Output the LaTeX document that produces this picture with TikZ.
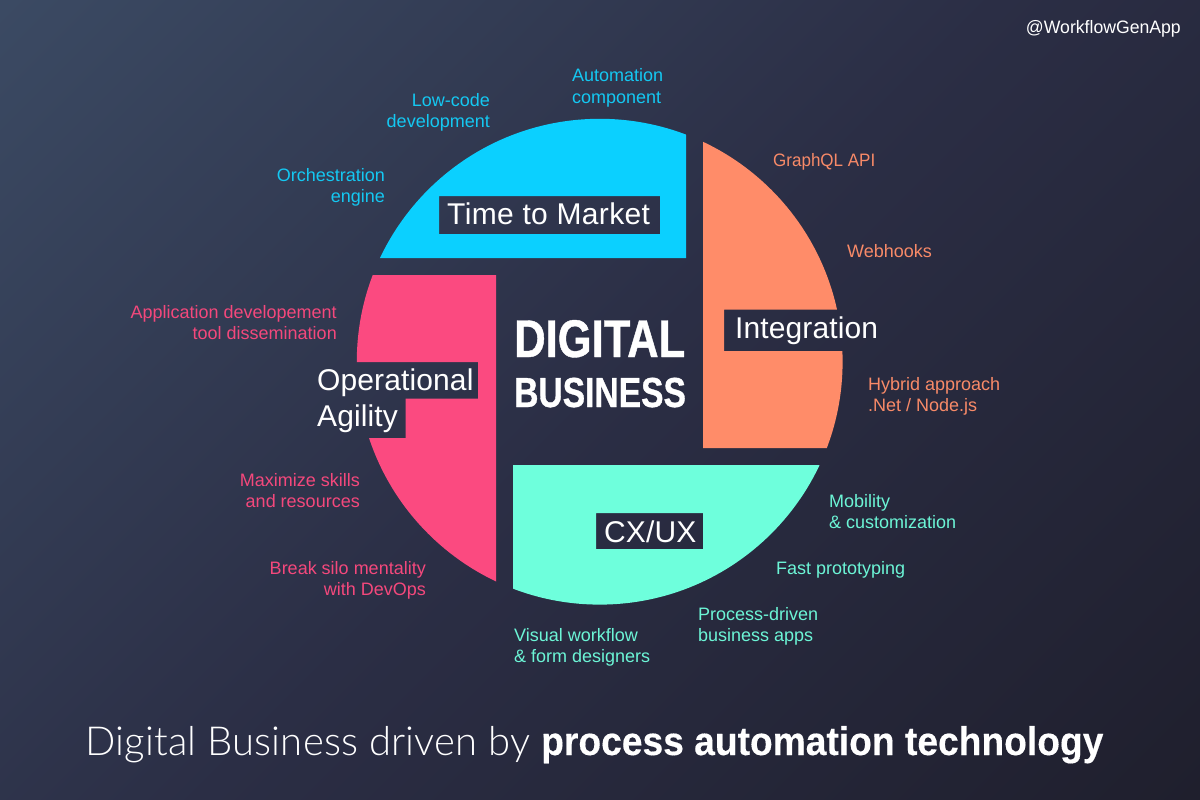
\documentclass[tikz,border=0pt]{standalone}
\usepackage{fontspec}
\setmainfont{Liberation Sans}
\newfontfamily\lightf[LetterSpace=0.35]{Lato Light}
\newfontfamily\boldf[FakeStretch=0.93,FakeBold=0.3]{Liberation Sans Bold}
\newfontfamily\bigf[LetterSpace=0.4]{Liberation Sans}
\newfontfamily\headf[FakeStretch=0.822,FakeBold=0.8]{Liberation Sans Bold}
\newfontfamily\headg[FakeStretch=0.8,FakeBold=0.8]{Liberation Sans Bold}
\definecolor{cyanseg}{HTML}{0BD0FF}
\definecolor{orangeseg}{HTML}{FF8C69}
\definecolor{pinkseg}{HTML}{FB4A80}
\definecolor{tealseg}{HTML}{6EFFDC}
\definecolor{cyantxt}{HTML}{14C8F2}
\definecolor{orangetxt}{HTML}{F88A68}
\definecolor{pinktxt}{HTML}{F4487C}
\definecolor{tealtxt}{HTML}{6CF5D6}
\definecolor{bga}{HTML}{3B4A63}
\definecolor{bgb}{HTML}{2B2E45}
\definecolor{bgc}{HTML}{1F1F2D}
\pgfdeclarehorizontalshading{bgshade}{100bp}{color(0bp)=(bga); color(14.6bp)=(bga); color(50bp)=(bgb); color(85.4bp)=(bgc); color(100bp)=(bgc)}
\tikzset{
  lab/.style={inner sep=0pt,font=\fontsize{18}{21.5}\selectfont},
  labr/.style={lab,align=right,anchor=east},
  labl/.style={lab,align=left,anchor=west},
  biglab/.style={inner sep=0pt,text=white,anchor=base west,font=\bigf\fontsize{30}{36}\selectfont},
}
\begin{document}
\begin{tikzpicture}[x=1pt,y=-1pt]
\useasboundingbox (0,0) rectangle (1200,800);
\shade[shading=bgshade,shading angle=-45] (0,0) rectangle (1200,800);
\def\disc{(599.7,361.7) circle[radius=242.9pt]}
% Segments, with their label plates cut out so the background shows through
\begin{scope}
  \clip \disc;
  \fill[cyanseg,even odd rule] (300,100) rectangle (686,258) (439,196) rectangle (660,234);
  \fill[orangeseg,even odd rule] (703,100) rectangle (900,448) (724,309.5) rectangle (900,351);
  \fill[tealseg,even odd rule] (513,465) rectangle (900,650) (596,513) rectangle (703,549);
  \fill[pinkseg,even odd rule] (300,275) rectangle (496,650)
     (300,362) -- (478,362) -- (478,398.5) -- (405.5,398.5) -- (405.5,438) -- (300,438) -- cycle;
\end{scope}
% Segment names
\node[biglab] (tm) at (447,224) {\addfontfeature{LetterSpace=1.2}Time to Market};
\node[biglab] (in) at (735,338) {Integration};
\node[biglab] (op) at (317,390) {Operational};
\node[biglab] (ag) at (317,426) {Agility};
\node[biglab] (cx) at (604,542) {CX/UX};
% Centre title
\node[inner sep=0pt,text=white,anchor=base west,font=\headf\fontsize{53}{53}\selectfont] (dig) at (514,357) {DIGITAL};
\node[inner sep=0pt,text=white,anchor=base west,font=\headg\fontsize{42}{42}\selectfont] (bus) at (514,407) {BUSINESS};
% Cyan labels
\node[labl,text=cyantxt] (a1) at (572,88) {\strut Automation\\\strut component};
\node[labr,text=cyantxt] (a2) at (490,112.5) {\strut Low-code\\\strut development};
\node[labr,text=cyantxt] (a3) at (385,187.5) {\strut Orchestration\\\strut engine};
% Orange labels
\node[labl,text=orangetxt] (b1) at (773,161.7) {\addfontfeature{FakeStretch=0.945}\strut GraphQL API};
\node[labl,text=orangetxt] (b2) at (847,252.7) {\strut Webhooks};
\node[labl,text=orangetxt] (b3) at (868,396.5) {\strut Hybrid approach\\\strut .Net / Node.js};
% Teal labels
\node[labl,text=tealtxt] (c1) at (829,513.5) {\strut Mobility\\\strut \& customization};
\node[labl,text=tealtxt] (c2) at (776,569.7) {\strut Fast prototyping};
\node[labl,text=tealtxt] (c3) at (698,626.5) {\strut Process-driven\\\strut business apps};
\node[labl,text=tealtxt] (c4) at (514,647.5) {\strut Visual workflow\\\strut \& form designers};
% Pink labels
\node[labr,text=pinktxt] (d1) at (337,324.5) {\strut Application developement\\\strut tool dissemination};
\node[labr,text=pinktxt] (d2) at (360,492.5) {\strut Maximize skills\\\strut and resources};
\node[labr,text=pinktxt] (d3) at (426,580.5) {\strut Break silo mentality\\\strut with DevOps};
% Corner handle
\node[lab,text=white,anchor=base east] (handle) at (1181,34) {\addfontfeature{FakeStretch=0.98}@WorkflowGenApp};
% Caption
\node[inner sep=0pt,text=white,anchor=base west,font=\fontsize{40}{48}\selectfont] (cap) at (85.5,755) {{\lightf Digital Business driven by} {\boldf process automation technology}};
\end{tikzpicture}
\end{document}
